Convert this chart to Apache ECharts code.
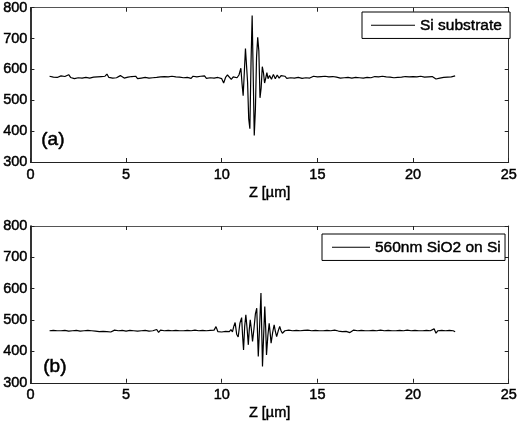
<!DOCTYPE html>
<html>
<head>
<meta charset="utf-8">
<script src="https://cdn.jsdelivr.net/npm/echarts@6/dist/echarts.min.js"></script>
<style>html,body{margin:0;padding:0;background:#fff;}#c{width:520px;height:422px;}</style>
</head>
<body>
<div id="c"></div>
<script>
// ---- axis ticks ----
var zTicks = [0, 5, 10, 15, 20, 25];
var yTicks = [300, 400, 500, 600, 700, 800];
var seriesNames = ['Si substrate', '560nm SiO2 on Si'];
var panelLabels = ['(a)', '(b)'];

// ---- panel (a): Si substrate ----
var zA = [
 1.0,1.1,1.2,1.3,1.4,1.5,1.6,1.7,1.8,1.9,
 2.0,2.1,2.2,2.3,2.4,2.5,2.6,2.7,2.8,2.9,
 3.0,3.1,3.2,3.3,3.4,3.5,3.6,3.7,3.8,3.9,
 4.0,4.1,4.2,4.3,4.4,4.5,4.6,4.7,4.8,4.9,
 5.0,5.1,5.2,5.3,5.4,5.5,5.6,5.7,5.8,5.9,
 6.0,6.1,6.2,6.3,6.4,6.5,6.6,6.7,6.8,6.9,
 7.0,7.1,7.2,7.3,7.4,7.5,7.6,7.7,7.8,7.9,
 8.0,8.1,8.2,8.3,8.4,8.5,8.6,8.7,8.8,8.9,
 9.0,9.1,9.2,9.3,9.4,9.5,9.6,9.7,9.8,9.9,
 10.0,10.1,10.2,10.3,10.4,10.5,10.6,10.7,10.8,10.9,
 11.00,11.06,11.12,11.18,11.24,11.30,11.35,11.41,11.47,11.53,
 11.59,11.64,11.70,11.76,11.82,11.88,11.94,12.00,12.06,12.12,
 12.18,12.24,12.30,12.36,12.42,
 12.5,12.6,12.7,12.8,12.9,13.0,13.1,13.2,13.3,13.4,
 13.5,13.6,13.7,13.8,13.9,14.0,14.1,14.2,14.3,14.4,
 14.5,14.6,14.7,14.8,14.9,15.0,15.1,15.2,15.3,15.4,
 15.5,15.6,15.7,15.8,15.9,16.0,16.1,16.2,16.3,16.4,
 16.5,16.6,16.7,16.8,16.9,17.0,17.1,17.2,17.3,17.4,
 17.5,17.6,17.7,17.8,17.9,18.0,18.1,18.2,18.3,18.4,
 18.5,18.6,18.7,18.8,18.9,19.0,19.1,19.2,19.3,19.4,
 19.5,19.6,19.7,19.8,19.9,20.0,20.1,20.2,20.3,20.4,
 20.5,20.6,20.7,20.8,20.9,21.0,21.1,21.2,21.3,21.4,
 21.5,21.6,21.7,21.8,21.9,22.0,22.1,22.2
];
var sigA = [
 578,577,575,578,574,576,579,574,577,580,
 583,574,577,570,566,573,576,572,577,574,
 576,572,577,575,571,576,573,577,574,578,
 585,574,578,572,576,573,578,580,586,572,
 568,575,571,577,573,578,570,576,572,577,
 574,578,572,576,573,578,574,571,576,573,
 577,572,576,574,578,573,576,572,575,577,
 573,578,574,577,571,578,573,576,570,578,
 574,579,571,577,573,578,572,576,574,579,
 570,556,574,582,588,568,576,570,573,582,
 604,555,515,590,668,672,560,440,408,620,
 775,600,386,470,640,704,660,508,540,609,
 590,556,572,590,570,
 580,568,584,570,582,572,580,574,578,571,
 577,573,578,572,576,574,578,571,576,573,
 577,572,575,578,573,576,571,577,574,578,
 572,576,573,577,571,575,580,572,576,573,
 578,574,577,572,576,574,578,573,576,572,
 577,574,578,573,575,577,572,576,574,578,
 573,576,571,575,578,573,577,574,570,575,
 573,577,574,576,572,577,573,576,574,578,
 572,575,571,576,573,577,574,569,575,572,
 576,574,578,575,580,576,582,579
];

// ---- panel (b): 560nm SiO2 on Si ----
var zB = [
 1.0,1.1,1.2,1.3,1.4,1.5,1.6,1.7,1.8,1.9,
 2.0,2.1,2.2,2.3,2.4,2.5,2.6,2.7,2.8,2.9,
 3.0,3.1,3.2,3.3,3.4,3.5,3.6,3.7,3.8,3.9,
 4.0,4.1,4.2,4.3,4.4,4.5,4.6,4.7,4.8,4.9,
 5.0,5.1,5.2,5.3,5.4,5.5,5.6,5.7,5.8,5.9,
 6.0,6.1,6.2,6.3,6.4,6.5,6.6,6.7,6.8,6.9,
 7.0,7.1,7.2,7.3,7.4,7.5,7.6,7.7,7.8,7.9,
 8.0,8.1,8.2,8.3,8.4,8.5,8.6,8.7,8.8,8.9,
 9.0,9.1,9.2,9.3,9.4,9.5,9.6,9.7,9.8,9.9,
 10.0,10.1,10.2,10.3,10.4,
 10.48,10.56,10.63,10.70,10.78,10.86,10.95,11.04,11.09,11.14,
 11.20,11.26,11.33,11.39,11.44,11.49,11.55,11.61,11.68,11.76,
 11.83,11.87,11.91,11.98,12.05,12.09,12.13,12.19,12.25,12.30,
 12.34,12.41,12.48,12.53,12.58,12.66,12.74,12.80,12.87,12.95,
 13.03,13.10,13.17,
 13.3,13.4,13.5,13.6,13.7,13.8,13.9,14.0,14.1,14.2,
 14.3,14.4,14.5,14.6,14.7,14.8,14.9,15.0,15.1,15.2,
 15.3,15.4,15.5,15.6,15.7,15.8,15.9,16.0,16.1,16.2,
 16.3,16.4,16.5,16.6,16.7,16.8,16.9,17.0,17.1,17.2,
 17.3,17.4,17.5,17.6,17.7,17.8,17.9,18.0,18.1,18.2,
 18.3,18.4,18.5,18.6,18.7,18.8,18.9,19.0,19.1,19.2,
 19.3,19.4,19.5,19.6,19.7,19.8,19.9,20.0,20.1,20.2,
 20.3,20.4,20.5,20.6,20.7,20.8,20.9,21.0,21.1,21.2,
 21.3,21.4,21.5,21.6,21.7,21.8,21.9,22.0,22.1,22.2
];
var sigB = [
 466,465,467,463,466,462,466,464,467,463,
 465,462,466,464,467,463,465,462,466,464,
 467,463,466,461,465,468,463,466,464,467,
 463,466,462,465,468,463,466,464,467,462,
 465,463,467,464,466,462,465,463,466,464,
 467,463,465,462,466,464,470,461,468,463,
 466,462,467,464,466,463,467,464,466,462,
 466,464,467,463,466,464,468,462,466,463,
 467,464,466,462,467,464,468,479,463,466,
 462,467,464,469,463,
 470,462,480,492,455,446,490,508,450,405,
 480,517,470,421,470,501,470,432,470,520,
 538,460,384,480,586,470,352,450,543,470,
 389,450,490,460,426,460,485,465,447,465,
 480,466,458,
 466,463,468,464,466,462,467,464,466,463,
 467,464,468,463,466,464,467,463,466,462,
 466,464,467,463,466,464,468,463,465,467,
 463,466,464,467,460,465,468,463,466,464,
 467,463,466,462,466,464,467,463,466,464,
 468,463,466,464,467,463,466,462,466,464,
 467,463,466,464,468,463,466,464,467,463,
 466,462,466,464,467,463,466,464,472,458,
 466,463,467,464,466,463,467,462,466,463
];

function pairs(z, v) { var out = []; for (var i = 0; i < z.length; i++) out.push([z[i], v[i]]); return out; }

var FONT = "'Liberation Sans', Arial, Helvetica, sans-serif";
var TB = { textBorderColor: '#000', textBorderWidth: 0.45 };

function xAx(grid, pos, labels) {
  return {
    type: 'value', gridIndex: grid, position: pos,
    min: zTicks[0], max: zTicks[zTicks.length - 1], interval: 5,
    name: labels ? 'Z [µm]' : '', nameLocation: 'middle', nameGap: 23,
    nameTextStyle: Object.assign({ color: '#000', fontFamily: FONT, fontSize: 14.5 }, TB),
    axisLine: { show: true, onZero: false, lineStyle: { color: labels ? '#222' : '#555', width: 1 } },
    axisTick: { show: true, inside: true, length: 4, lineStyle: { color: '#222' } },
    axisLabel: Object.assign({ show: labels, color: '#000', fontFamily: FONT, fontSize: 14.5, margin: 5 }, TB),
    splitLine: { show: false }
  };
}
function yAx(grid, pos, labels) {
  return {
    type: 'value', gridIndex: grid, position: pos,
    min: yTicks[0], max: yTicks[yTicks.length - 1], interval: 100,
    axisLine: { show: true, onZero: false, lineStyle: { color: labels ? '#000' : '#333', width: labels ? 1.6 : 1 } },
    axisTick: { show: true, inside: true, length: 4, lineStyle: { color: '#222' } },
    axisLabel: Object.assign({ show: labels, color: '#000', fontFamily: FONT, fontSize: 14.5, margin: 3 }, TB),
    splitLine: { show: false }
  };
}

var chart = echarts.init(document.getElementById('c'), null, { renderer: 'canvas' });
chart.setOption({
  animation: false,
  backgroundColor: '#fff',
  grid: [
    { left: 28, right: 9, top: 5, height: 157 },
    { left: 28, right: 9, top: 226, height: 157 }
  ],
  xAxis: [xAx(0, 'bottom', true), xAx(1, 'bottom', true), xAx(0, 'top', false), xAx(1, 'top', false)],
  yAxis: [yAx(0, 'left', true), yAx(1, 'left', true), yAx(0, 'right', false), yAx(1, 'right', false)],
  legend: [
    {
      data: [seriesNames[0]], left: 362, top: 12, orient: 'horizontal',
      icon: 'rect', itemWidth: 44, itemHeight: 1,
      padding: [5, 8, 5, 9], borderColor: '#000', borderWidth: 1, backgroundColor: '#fff',
      textStyle: Object.assign({ color: '#000', fontFamily: FONT, fontSize: 15.5 }, TB), selectedMode: false
    },
    {
      data: [seriesNames[1]], left: 322, top: 234, orient: 'horizontal',
      icon: 'rect', itemWidth: 38, itemHeight: 1,
      padding: [5, 4, 5, 10], borderColor: '#000', borderWidth: 1, backgroundColor: '#fff',
      textStyle: Object.assign({ color: '#000', fontFamily: FONT, fontSize: 15.5 }, TB), selectedMode: false
    }
  ],
  graphic: [
    { type: 'text', left: 41, top: 130, style: { text: panelLabels[0], font: '19px ' + FONT, fill: '#000', stroke: '#000', lineWidth: 0.5 } },
    { type: 'text', left: 43, top: 357, style: { text: panelLabels[1], font: '19px ' + FONT, fill: '#000', stroke: '#000', lineWidth: 0.5 } }
  ],
  series: [
    {
      name: seriesNames[0], type: 'line', xAxisIndex: 0, yAxisIndex: 0,
      data: pairs(zA, sigA), showSymbol: false, symbol: 'none',
      lineStyle: { color: '#000', width: 1.2 }, itemStyle: { color: '#000' }
    },
    {
      name: seriesNames[1], type: 'line', xAxisIndex: 1, yAxisIndex: 1,
      data: pairs(zB, sigB), showSymbol: false, symbol: 'none',
      lineStyle: { color: '#000', width: 1.2 }, itemStyle: { color: '#000' }
    }
  ]
});
</script>
</body>
</html>
